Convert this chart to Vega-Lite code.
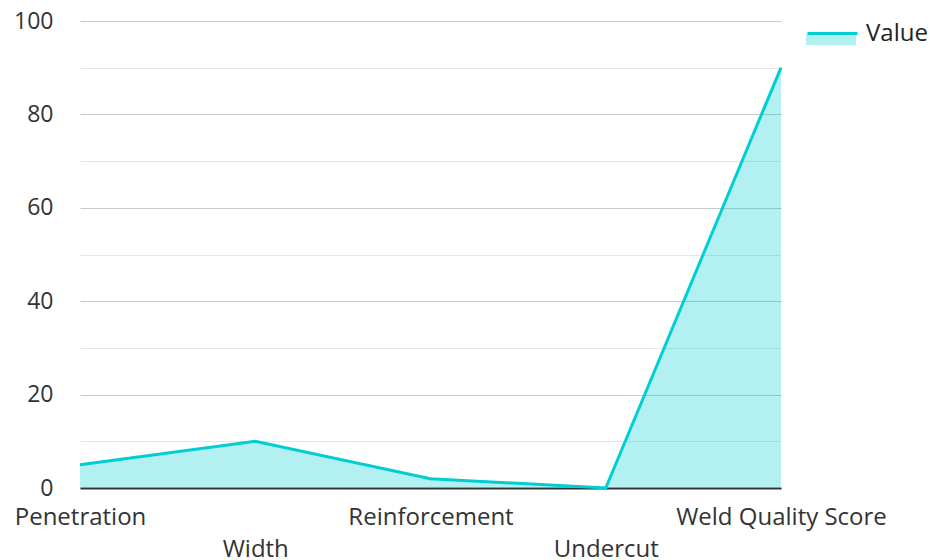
{
  "$schema": "https://vega.github.io/schema/vega-lite/v6.json",
  "autosize": "none",
  "width": 701,
  "height": 467,
  "padding": {"left": 80, "top": 21, "right": 149, "bottom": 72},
  "config": {
    "font": "Open Sans",
    "view": {"stroke": null},
    "axis": {"labelFont": "Open Sans", "labelColor": "#333333"}
  },
  "data": {
    "values": [
      {"metric": "Penetration", "value": 5, "series": "Value"},
      {"metric": "Width", "value": 10, "series": "Value"},
      {"metric": "Reinforcement", "value": 2, "series": "Value"},
      {"metric": "Undercut", "value": 0, "series": "Value"},
      {"metric": "Weld Quality Score", "value": 90, "series": "Value"}
    ]
  },
  "encoding": {
    "x": {
      "field": "metric",
      "type": "nominal",
      "sort": null,
      "scale": {"type": "point", "padding": 0},
      "axis": {
        "title": null,
        "labelAngle": 0,
        "labelFontSize": 24,
        "ticks": false,
        "domainColor": "#333333",
        "domainWidth": 2,
        "labelPadding": {"condition": {"test": "indexof(['Width','Undercut'], datum.value) >= 0", "value": 49}, "value": 17},
        "labelBaseline": "top",
        "labelFlush": false,
        "labelOverlap": false,
        "labelLimit": 0,
        "grid": false
      }
    },
    "y": {
      "field": "value",
      "type": "quantitative",
      "scale": {"domain": [0, 100], "nice": false},
      "axis": {
        "title": null,
        "values": [0, 10, 20, 30, 40, 50, 60, 70, 80, 90, 100],
        "labelExpr": "datum.value % 20 == 0 ? datum.label : ''",
        "labelFontSize": 23,
        "domain": false,
        "ticks": false,
        "labelPadding": 27,
        "gridColor": {"condition": {"test": "datum.value % 20 == 0", "value": "#c8c8c8"}, "value": "#e6e6e6"},
        "gridWidth": 1
      }
    }
  },
  "layer": [
    {
      "mark": {"type": "area", "opacity": 0.3, "color": "#00CED1"},
      "encoding": {
        "fill": {
          "field": "series",
          "type": "nominal",
          "scale": {"range": ["#00CED1"]},
          "legend": {
            "title": null,
            "orient": "none",
            "legendX": 726,
            "legendY": -14,
            "padding": 0,
            "symbolType": "M-1,0.08H1V0.52H-1Z",
            "symbolSize": 2500,
            "symbolOpacity": 0.3,
            "symbolStrokeWidth": 0,
            "labelExpr": "''",
            "labelFontSize": 24,
            "labelFont": "Open Sans",
            "labelOffset": 7
          }
        }
      }
    },
    {
      "mark": {"type": "line", "strokeWidth": 3, "color": "#00CED1"},
      "encoding": {
        "stroke": {
          "field": "series",
          "type": "nominal",
          "scale": {"range": ["#00CED1"]},
          "legend": {
            "title": null,
            "orient": "none",
            "legendX": 726,
            "legendY": -14,
            "padding": 0,
            "symbolType": "stroke",
            "symbolSize": 2500,
            "symbolStrokeWidth": 3,
            "labelFontSize": 24,
            "labelFont": "Open Sans",
            "labelColor": "#222222",
            "labelOffset": 7
          }
        }
      }
    }
  ]
}
